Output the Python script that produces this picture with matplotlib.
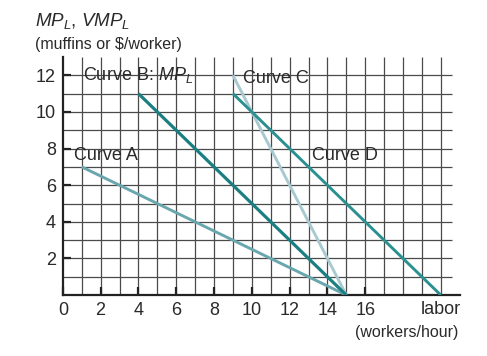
import matplotlib
matplotlib.use("Agg")
import matplotlib.pyplot as plt

plt.rcParams['font.family'] = ['Liberation Sans', 'DejaVu Sans']
plt.rcParams['mathtext.fontset'] = 'custom'
plt.rcParams['mathtext.rm'] = 'Liberation Sans'
plt.rcParams['mathtext.it'] = 'Liberation Sans:italic'
plt.rcParams['mathtext.bf'] = 'Liberation Sans:bold'

# Data
curve_a_x = [1, 15]
curve_a_y = [7, 0]
curve_b_x = [4, 15]
curve_b_y = [11, 0]
curve_c_x = [9, 15]
curve_c_y = [12, 0]
curve_d_x = [9, 20]
curve_d_y = [11, 0]
x_ticks = [0, 2, 4, 6, 8, 10, 12, 14, 16]
y_ticks = [2, 4, 6, 8, 10, 12]

fig = plt.figure(figsize=(4.87, 3.56), dpi=100)
ax = fig.add_axes([0.129, 0.171, 0.815, 0.669])
ax.set_xlim(0, 21)
ax.set_ylim(0, 13)

grid_c = '#4a4a4a'
ax.vlines(range(1, 21), 0, 13, color=grid_c, lw=0.9, zorder=1)
ax.hlines(range(1, 13), 0, 20.6, color=grid_c, lw=0.9, zorder=1)

ax.plot(curve_a_x, curve_a_y, color='#6aa6ae', lw=2.1, zorder=3, solid_capstyle='butt')
ax.plot(curve_c_x, curve_c_y, color='#a9c9d1', lw=2.1, zorder=3, solid_capstyle='butt')
ax.plot(curve_d_x, curve_d_y, color='#2b9090', lw=2.1, zorder=3, solid_capstyle='butt')
ax.plot(curve_b_x, curve_b_y, color='#1b7f82', lw=2.3, zorder=4, solid_capstyle='butt')

for s in ['top', 'right']:
    ax.spines[s].set_visible(False)
for s in ['left', 'bottom']:
    ax.spines[s].set_color('#222222')
    ax.spines[s].set_linewidth(1.6)

ax.set_xticks(x_ticks)
ax.set_xticklabels([str(v) for v in x_ticks])
ax.set_yticks(y_ticks)
ax.set_yticklabels([str(v) for v in y_ticks])
ax.tick_params(axis='both', direction='in', length=6, width=1.6, color='#222222',
               labelsize=13, labelcolor='#2a2a2a')
ax.tick_params(axis='x', pad=5)
ax.tick_params(axis='y', pad=5)

tc = '#2a2a2a'
fs = 13
ax.text(1.05, 12.0, 'Curve B: $\\mathit{MP}_L$', fontsize=fs, color=tc, va='center', ha='left', zorder=5)
ax.text(9.55, 11.8, 'Curve C', fontsize=fs, color=tc, va='center', ha='left', zorder=5)
ax.text(0.6, 7.6, 'Curve A', fontsize=fs, color=tc, va='center', ha='left', zorder=5)
ax.text(13.2, 7.6, 'Curve D', fontsize=fs, color=tc, va='center', ha='left', zorder=5)

fig.text(35/487, 1 - 21/356, '$\\mathit{MP}_L$, $\\mathit{VMP}_L$', fontsize=13.5, color=tc, va='center', ha='left')
fig.text(35/487, 1 - 44/356, '(muffins or $/worker)', fontsize=11.5, color=tc, va='center', ha='left')
fig.text(461/487, 1 - 310/356, 'labor', fontsize=13, color=tc, va='center', ha='right')
fig.text(458/487, 1 - 333/356, '(workers/hour)', fontsize=11.5, color=tc, va='center', ha='right')

fig.savefig('out.png', dpi=100)
